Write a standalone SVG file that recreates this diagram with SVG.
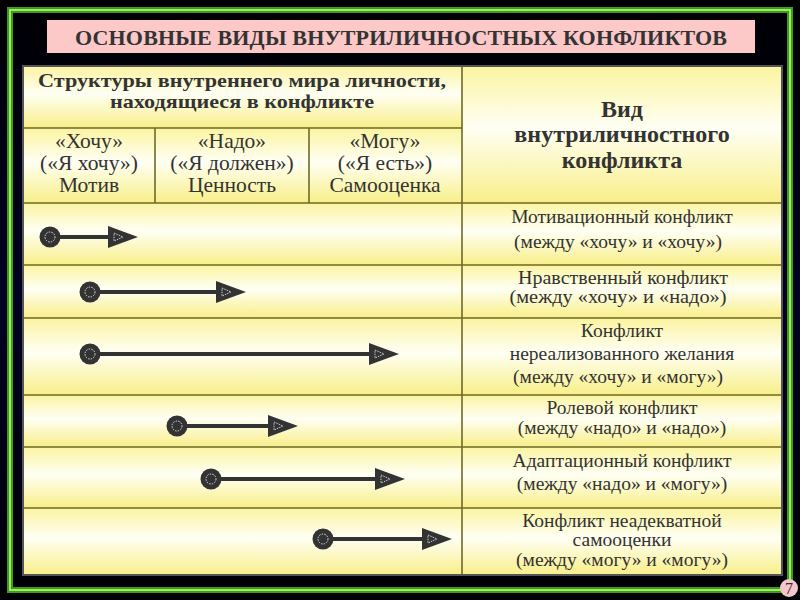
<svg xmlns="http://www.w3.org/2000/svg" width="800" height="600" viewBox="0 0 800 600">
<defs>
<linearGradient id="bg" x1="0" y1="0" x2="0" y2="1">
<stop offset="0" stop-color="#000003"/>
<stop offset="0.5" stop-color="#000022"/>
<stop offset="1" stop-color="#000005"/>
</linearGradient>
<linearGradient id="cell" x1="0" y1="0" x2="0" y2="1">
<stop offset="0" stop-color="#fbf4a0"/>
<stop offset="0.45" stop-color="#fffff4"/>
<stop offset="1" stop-color="#f8ef88"/>
</linearGradient>
<g id="startDot">
<circle r="10.5" fill="#333"/>
<circle r="5" fill="none" stroke="#ddd" stroke-width="1" stroke-dasharray="1.5 1.2"/>
</g>
<g id="head">
<polygon points="-30,-11 0,0 -30,11" fill="#333"/>
<polygon points="-24,-4 -15,0 -24,4" fill="none" stroke="#ddd" stroke-width="0.9" stroke-dasharray="1.5 1"/>
</g>
</defs>
<style>
.hdr{font-family:"Liberation Serif",serif;font-weight:bold;fill:#333;text-anchor:middle}
.t{font-family:"Liberation Serif",serif;fill:#333;text-anchor:middle;font-size:21.5px}
.c{font-family:"Liberation Serif",serif;fill:#333;text-anchor:middle;font-size:19.5px}
.grid{stroke:#6e6a2a;stroke-width:1.6;fill:none}
.shaft{stroke:#333;stroke-width:4;stroke-linecap:butt}
</style>
<rect x="0" y="0" width="800" height="600" fill="url(#bg)"/>
<g id="frame">
<rect x="10" y="10" width="780" height="580" fill="none" stroke="#3f9a1e" stroke-width="6"/>
<rect x="10" y="10" width="780" height="580" fill="none" stroke="#9af05a" stroke-width="2"/>
</g>
<g id="title">
<rect x="47" y="20" width="708" height="33" fill="#fcc8c8"/>
<text x="401" y="45" class="hdr" font-size="22" textLength="652">ОСНОВНЫЕ ВИДЫ ВНУТРИЛИЧНОСТНЫХ КОНФЛИКТОВ</text>
</g>
<g id="table">
<rect x="23" y="66" width="759" height="62" fill="url(#cell)"/>
<rect x="23" y="128" width="439" height="75" fill="url(#cell)"/>
<rect x="462" y="66" width="320" height="137" fill="url(#cell)"/>
<rect x="23" y="203" width="759" height="62" fill="url(#cell)"/>
<rect x="23" y="265" width="759" height="53" fill="url(#cell)"/>
<rect x="23" y="318" width="759" height="77" fill="url(#cell)"/>
<rect x="23" y="395" width="759" height="52" fill="url(#cell)"/>
<rect x="23" y="447" width="759" height="61" fill="url(#cell)"/>
<rect x="23" y="508" width="759" height="67" fill="url(#cell)"/>
<path class="grid" d="M23 128H462 M155 128V203 M309 128V203 M462 66V575 M23 203H782 M23 265H782 M23 318H782 M23 395H782 M23 447H782 M23 508H782"/>
<rect x="23" y="66" width="759" height="509" fill="none" stroke="#555" stroke-width="2"/>
</g>
<g id="header-structures">
<text x="242" y="87" class="hdr" font-size="19" textLength="408" lengthAdjust="spacingAndGlyphs">Структуры внутреннего мира личности,</text>
<text x="242" y="108" class="hdr" font-size="19" textLength="264" lengthAdjust="spacingAndGlyphs">находящиеся в конфликте</text>
</g>
<g id="header-kind">
<text x="622" y="117" class="hdr" font-size="24">Вид</text>
<text x="622" y="142" class="hdr" font-size="24">внутриличностного</text>
<text x="622" y="168" class="hdr" font-size="24">конфликта</text>
</g>
<g id="col-hochu">
<text x="89" y="148" class="t">«Хочу»</text>
<text x="89" y="170" class="t">(«Я хочу»)</text>
<text x="89" y="192" class="t">Мотив</text>
</g>
<g id="col-nado">
<text x="232" y="148" class="t">«Надо»</text>
<text x="232" y="170" class="t">(«Я должен»)</text>
<text x="232" y="192" class="t">Ценность</text>
</g>
<g id="col-mogu">
<text x="385" y="148" class="t">«Могу»</text>
<text x="385" y="170" class="t">(«Я есть»)</text>
<text x="385" y="192" class="t">Самооценка</text>
</g>
<g id="row1">
<text x="622" y="223" class="c">Мотивационный конфликт</text>
<text x="618" y="248" class="c">(между «хочу» и «хочу»)</text>
</g>
<g id="row2">
<text x="623" y="284" class="c" font-size="17.5" textLength="210" lengthAdjust="spacingAndGlyphs">Нравственный конфликт</text>
<text x="618" y="303" class="c" font-size="17.5" textLength="217" lengthAdjust="spacingAndGlyphs">(между «хочу» и «надо»)</text>
</g>
<g id="row3">
<text x="622" y="337" class="c">Конфликт</text>
<text x="622" y="360" class="c">нереализованного желания</text>
<text x="618" y="383" class="c">(между «хочу» и «могу»)</text>
</g>
<g id="row4">
<text x="622" y="414" class="c">Ролевой конфликт</text>
<text x="622" y="434" class="c">(между «надо» и «надо»)</text>
</g>
<g id="row5">
<text x="622" y="467" class="c">Адаптационный конфликт</text>
<text x="622" y="490" class="c">(между «надо» и «могу»)</text>
</g>
<g id="row6">
<text x="622" y="527" class="c">Конфликт неадекватной</text>
<text x="622" y="546" class="c">самооценки</text>
<text x="622" y="566" class="c">(между «могу» и «могу»)</text>
</g>
<g id="connectors">
<line class="shaft" x1="50" y1="237" x2="110" y2="237"/>
<use href="#startDot" x="50" y="237"/><use href="#head" x="138" y="237"/>
<line class="shaft" x1="90" y1="292" x2="218" y2="292"/>
<use href="#startDot" x="90" y="292"/><use href="#head" x="246" y="292"/>
<line class="shaft" x1="90" y1="354" x2="371" y2="354"/>
<use href="#startDot" x="90" y="354"/><use href="#head" x="399" y="354"/>
<line class="shaft" x1="177" y1="426" x2="270" y2="426"/>
<use href="#startDot" x="177" y="426"/><use href="#head" x="298" y="426"/>
<line class="shaft" x1="211" y1="479" x2="377" y2="479"/>
<use href="#startDot" x="211" y="479"/><use href="#head" x="405" y="479"/>
<line class="shaft" x1="323" y1="539" x2="424" y2="539"/>
<use href="#startDot" x="323" y="539"/><use href="#head" x="452" y="539"/>
</g>
<g id="page-number">
<circle cx="789" cy="588" r="9" fill="#f7c6cc"/>
<text x="789" y="594" font-family="Liberation Serif,serif" font-size="16" fill="#333" text-anchor="middle">7</text>
</g>
</svg>
